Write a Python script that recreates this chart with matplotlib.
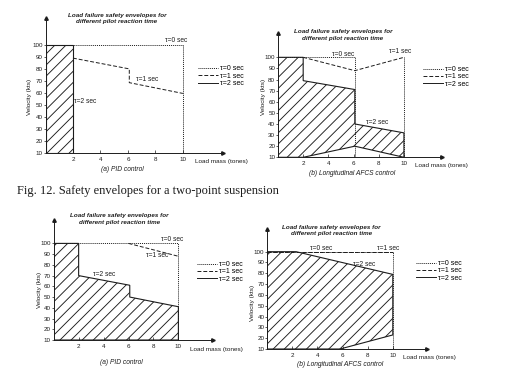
# plot.py
# Safety envelopes (load failure) for two suspension types, four panels.

import matplotlib.pyplot as plt
from matplotlib.lines import Line2D

plt.rcParams['font.family'] = ['Liberation Sans', 'DejaVu Sans']
plt.rcParams['hatch.linewidth'] = 0.65

W, H = 516, 377

# ---- data ----
x_ticks = [2, 4, 6, 8, 10]
y_ticks = [10, 20, 30, 40, 50, 60, 70, 80, 90, 100]
legend_labels = ['\u03c4=0 sec', '\u03c4=1 sec', '\u03c4=2 sec']

# top left: PID control, two-point suspension
tl_t0_x = [0, 10, 10]
tl_t0_y = [100, 100, 10]
tl_t1_x = [2, 6.1, 6.1, 10]
tl_t1_y = [89, 80, 68.5, 59.5]
tl_t2_x = [0, 2, 2, 0]
tl_t2_y = [100, 100, 10, 10]

# top right: longitudinal AFCS, two-point suspension
tr_t0_x = [0, 6.1, 6.1]
tr_t0_y = [100, 100, 10]
tr_t1_x = [2, 6.1, 10]
tr_t1_y = [100, 88, 100]
tr_t1_drop_x = [10, 10]
tr_t1_drop_y = [100, 10]
tr_t2_x = [0, 2, 2, 6.1, 6.1, 10, 10, 6.1, 2, 0]
tr_t2_y = [100, 100, 79, 71, 40, 32, 10, 20, 10, 10]

# bottom left: PID control
bl_t0_x = [0, 10, 10]
bl_t0_y = [100, 100, 10]
bl_t1_x = [6, 10]
bl_t1_y = [100, 88]
bl_t2_x = [0, 2, 2, 6.1, 6.1, 10, 10, 0]
bl_t2_y = [100, 100, 70, 61, 50, 41, 10, 10]

# bottom right: longitudinal AFCS
br_t0_x = [0, 10, 10]
br_t0_y = [100, 100, 10]
br_t1_x = [0, 10]
br_t1_y = [100, 100]
br_t2_x = [0, 2.3, 10, 10, 5.8, 0]
br_t2_y = [100, 100, 79, 23, 10, 10]

panels = [
    dict(t0=(tl_t0_x, tl_t0_y), t1=(tl_t1_x, tl_t1_y), t2=(tl_t2_x, tl_t2_y),
         notes=[(8.7, 103.6), (6.6, 70.8), (2.1, 52.6)],
         caption='(a) PID control'),
    dict(t0=(tr_t0_x, tr_t0_y), t1=(tr_t1_x, tr_t1_y), t2=(tr_t2_x, tr_t2_y),
         drop=(tr_t1_drop_x, tr_t1_drop_y),
         notes=[(4.26, 102.7), (8.83, 105), (6.98, 41.1)],
         caption='(b) Longitudinal AFCS control'),
    dict(t0=(bl_t0_x, bl_t0_y), t1=(bl_t1_x, bl_t1_y), t2=(bl_t2_x, bl_t2_y),
         notes=[(8.64, 103.2), (7.38, 88.5), (3.12, 70.8)],
         caption='(a) PID control'),
    dict(t0=(br_t0_x, br_t0_y), t1=(br_t1_x, br_t1_y), t2=(br_t2_x, br_t2_y),
         notes=[(3.41, 103.1), (8.72, 102.5), (6.86, 87.7)],
         caption='(b) Longitudinal AFCS control'),
]

# ---- layout in pixels ----
# (x of origin, x of arrow end, y of baseline, y of arrow top, xmax, ymax)
boxes = [
    (45.5, 222.7, 152.7, 18, 12.9, 122.5),
    (278, 441.7, 157.3, 33, 13.0, 121.9),
    (53.7, 213.3, 340, 220, 12.8, 121.8),
    (267.2, 426.7, 349, 229.3, 12.7, 120.7),
]
title_pos = [(117, 18.5), (343, 35), (119.7, 219), (331.5, 230.5)]
xlabel_pos = [(195, 161.7), (415, 165), (190, 349), (402.7, 357)]
ylabel_pos = [(30, 96.7), (263.3, 96.7), (39.3, 290), (252.7, 303.3)]
caption_pos = [(122, 170), (352.5, 173.7), (121.7, 363), (340.5, 365)]
legend_pos = [(198, 65.5), (423, 66), (197, 261), (415.7, 260)]

ink = '#1c1c1c'
styles = [(0, (1, 1)), (0, (4, 2)), '-']

fig = plt.figure(figsize=(W / 100, H / 100), dpi=100)


def fx(px):
    return px / W


def fy(py):
    return 1 - py / H


for p, (x0, x1, yb, yt, xmax, ymax), tp, xp, yp, cp, lp in zip(
        panels, boxes, title_pos, xlabel_pos, ylabel_pos, caption_pos, legend_pos):
    ax = fig.add_axes([fx(x0), fy(yb), (x1 - x0) / W, (yb - yt) / H])
    ax.set_xlim(0, xmax)
    ax.set_ylim(10, ymax)
    for s in ['top', 'right']:
        ax.spines[s].set_visible(False)
    for s in ['left', 'bottom']:
        ax.spines[s].set_linewidth(0.7)
        ax.spines[s].set_color(ink)
    ax.plot([1], [0], marker='>', color=ink, ms=2.5, transform=ax.transAxes, clip_on=False)
    ax.plot([0], [1], marker='^', color=ink, ms=2.5, transform=ax.transAxes, clip_on=False)

    ax.set_xticks(x_ticks)
    ax.set_yticks(y_ticks)
    ax.tick_params(axis='x', direction='in', length=2, width=0.5, pad=3,
                   labelsize=4.5, colors=ink)
    ax.tick_params(axis='y', direction='out', length=1.2, width=0.5, pad=0.8,
                   labelsize=4.5, colors=ink)

    # envelopes
    ax.fill(*p['t2'], facecolor='none', edgecolor=ink, hatch='///', lw=0.8)
    ax.plot(*p['t0'], color=ink, lw=0.7, ls=styles[0])
    ax.plot(*p['t1'], color=ink, lw=0.7, ls=styles[1])
    if 'drop' in p:
        ax.plot(*p['drop'], color=ink, lw=0.7, ls=styles[0])

    for (tx, ty), lab in zip(p['notes'], legend_labels):
        ax.text(tx, ty, lab, fontsize=4.8, color=ink, va='center', ha='left')

    handles = [Line2D([], [], color=ink, lw=0.7, ls=st) for st in styles]
    ax.legend(handles, legend_labels, loc='upper left',
              bbox_to_anchor=(fx(lp[0]), fy(lp[1])), bbox_transform=fig.transFigure,
              frameon=False, fontsize=5, handlelength=2.9, handletextpad=0.3,
              labelspacing=0.05, borderpad=0, borderaxespad=0)

    fig.text(fx(tp[0]), fy(tp[1]),
             'Load failure safety envelopes for\ndifferent pilot reaction time',
             fontsize=4.5, style='italic', weight='bold', ha='center', va='center',
             linespacing=1.5, color=ink)
    fig.text(fx(xp[0]), fy(xp[1]), 'Load mass (tones)', fontsize=4.6,
             ha='left', va='center', color=ink)
    fig.text(fx(yp[0]), fy(yp[1]), 'Velocity (kts)', fontsize=4.6, rotation=90,
             ha='center', va='center', color=ink)
    fig.text(fx(cp[0]), fy(cp[1]), p['caption'], fontsize=4.8, style='italic',
             ha='center', va='center', color=ink)

fig.text(fx(17), fy(191.3), 'Fig. 12. Safety envelopes for a two-point suspension',
         family='Liberation Serif', fontsize=8.9, ha='left', va='center', color=ink)

plt.savefig('out.png', dpi=100)
